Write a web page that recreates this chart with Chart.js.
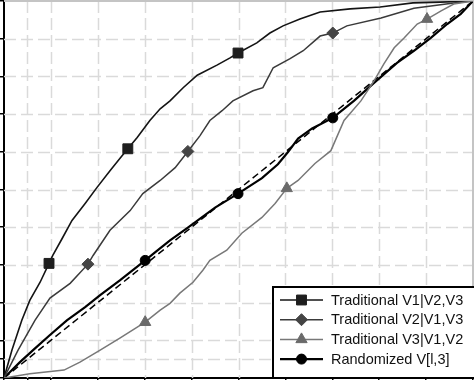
<!DOCTYPE html>
<html><head><meta charset="utf-8">
<script src="https://cdn.jsdelivr.net/npm/chart.js@4/dist/chart.umd.min.js"></script>
<style>html,body{margin:0;padding:0;background:#fff;overflow:hidden}#wrap{width:474px;height:380px;position:relative}</style>
</head><body><div id="wrap"><canvas id="c" width="474" height="380"></canvas></div>
<script>
const seriesLabels = ["Traditional V1|V2,V3", "Traditional V2|V1,V3", "Traditional V3|V1,V2", "Randomized V[l,3]"];
const tickValues = [0, 0.05, 0.1, 0.2, 0.3, 0.4, 0.5, 0.6, 0.7, 0.8, 0.9, 1.0];

const v1X = [0,0.017,0.038,0.055,0.077,0.096,0.104,0.124,0.145,0.173,0.198,0.226,0.247,0.264,0.284,0.311,0.333,0.354,0.382,0.412,0.454,0.482,0.499,0.539,0.567,0.595,0.631,0.674,0.738,0.802,0.872,0.930,1];
const v1Y = [0,0.074,0.153,0.206,0.254,0.304,0.325,0.370,0.418,0.463,0.505,0.550,0.582,0.608,0.638,0.683,0.714,0.735,0.770,0.803,0.830,0.849,0.862,0.889,0.915,0.934,0.952,0.971,0.979,0.984,0.995,0.997,1];
const v1Markers = [5, 13, 22];

const v2X = [0,0.030,0.066,0.098,0.141,0.179,0.190,0.226,0.269,0.296,0.333,0.365,0.392,0.418,0.439,0.465,0.488,0.531,0.552,0.574,0.610,0.638,0.674,0.701,0.731,0.804,0.874,0.959,1];
const v2Y = [0,0.074,0.153,0.212,0.251,0.302,0.325,0.392,0.444,0.489,0.524,0.558,0.601,0.643,0.683,0.709,0.735,0.762,0.770,0.823,0.847,0.868,0.907,0.915,0.934,0.955,0.981,0.995,1];
const v2Markers = [5, 12, 23];

const v3X = [0,0.055,0.128,0.162,0.205,0.247,0.301,0.333,0.354,0.375,0.403,0.424,0.439,0.475,0.507,0.550,0.578,0.603,0.627,0.663,0.697,0.725,0.761,0.789,0.810,0.832,0.853,0.881,0.902,0.932,0.959,1];
const v3Y = [0,0.011,0.021,0.042,0.074,0.106,0.148,0.180,0.198,0.225,0.254,0.286,0.312,0.339,0.384,0.426,0.463,0.503,0.524,0.569,0.603,0.683,0.735,0.788,0.833,0.876,0.902,0.939,0.952,0.974,0.992,1];
const v3Markers = [6, 17, 28];

const rX = [0,0.017,0.034,0.062,0.098,0.134,0.173,0.205,0.247,0.301,0.322,0.354,0.392,0.450,0.499,0.550,0.584,0.606,0.627,0.657,0.701,0.746,0.789,0.838,0.874,0.910,0.945,0.974,1];
const rY = [0,0.021,0.042,0.074,0.114,0.153,0.188,0.220,0.259,0.312,0.333,0.365,0.399,0.452,0.489,0.530,0.567,0.600,0.635,0.662,0.690,0.735,0.783,0.836,0.868,0.902,0.939,0.966,1];
const rMarkers = [9, 14, 20];

const refX = [0, 1];
const refY = [0, 1];

function pts(xs, ys) { return xs.map((x, i) => ({x: x, y: ys[i]})); }
function markerRadius(list, r) { return ctx => list.includes(ctx.dataIndex) ? r : 0; }

const styles = [
  {color: '#141414', fill: '#1e1e1e', style: 'rect', r: 7, w: 1.6},
  {color: '#3a3a3a', fill: '#444444', style: 'rectRot', r: 6, w: 1.5},
  {color: '#787878', fill: '#6a6a6a', style: 'triangle', r: 6.5, w: 1.5},
  {color: '#000000', fill: '#000000', style: 'circle', r: 5, w: 2.2}
];
const seriesPts = [pts(v1X, v1Y), pts(v2X, v2Y), pts(v3X, v3Y), pts(rX, rY)];
const seriesMarkers = [v1Markers, v2Markers, v3Markers, rMarkers];

const datasets = [{
  label: 'ref', data: pts(refX, refY), showLine: true, borderColor: '#000', borderWidth: 1.5,
  borderDash: [7, 4], pointRadius: 0, fill: false, order: 5
}];
[2, 1, 0, 3].forEach(i => {
  const s = styles[i];
  datasets.push({
    label: seriesLabels[i], data: seriesPts[i], showLine: true, borderColor: s.color, borderWidth: s.w,
    pointStyle: s.style, pointRadius: markerRadius(seriesMarkers[i], s.r), pointHoverRadius: 0,
    pointBackgroundColor: s.fill, pointBorderColor: s.fill, pointBorderWidth: 1, tension: 0, fill: false
  });
});

const framePlugin = {
  id: 'frame',
  beforeDatasetsDraw(chart) {
    const {ctx, chartArea: a, scales} = chart;
    ctx.save();
    ctx.strokeStyle = '#dadada'; ctx.lineWidth = 1.5; ctx.setLineDash([12, 5]);
    tickValues.forEach(v => {
      if (v <= 0 || v >= 1) return;
      const x = Math.round(scales.x.getPixelForValue(v)) + 0.5;
      ctx.beginPath(); ctx.moveTo(x, a.top); ctx.lineTo(x, a.bottom); ctx.stroke();
      const y = Math.round(scales.y.getPixelForValue(v)) + 0.5;
      ctx.beginPath(); ctx.moveTo(a.left, y); ctx.lineTo(a.right, y); ctx.stroke();
    });
    ctx.setLineDash([]);
    ctx.strokeStyle = '#c4c4c4'; ctx.lineWidth = 2;
    ctx.beginPath(); ctx.moveTo(a.left, a.top); ctx.lineTo(a.right, a.top); ctx.lineTo(a.right, a.bottom); ctx.stroke();
    ctx.restore();
  }
};

const legendPlugin = {
  id: 'boxLegend',
  afterDraw(chart) {
    const ctx = chart.ctx;
    ctx.save();
    ctx.fillStyle = '#fff';
    ctx.fillRect(273, 287, 210, 91);
    ctx.strokeStyle = '#000'; ctx.lineWidth = 2;
    ctx.strokeRect(273, 287, 210, 91);
    for (let i = 0; i < 4; i++) {
      const s = styles[i];
      const y = 300 + i * 19.7;
      ctx.strokeStyle = s.color; ctx.lineWidth = s.w; ctx.setLineDash([]);
      ctx.beginPath(); ctx.moveTo(280, y); ctx.lineTo(323, y); ctx.stroke();
      ctx.fillStyle = s.fill; ctx.strokeStyle = s.fill; ctx.lineWidth = 1;
      Chart.helpers.drawPoint(ctx, {pointStyle: s.style, radius: s.r, rotation: 0, borderWidth: 1}, 301.5, y);
      ctx.fillStyle = '#111';
      ctx.font = '14.5px "Liberation Sans", Arial, sans-serif';
      ctx.textBaseline = 'middle';
      ctx.fillText(seriesLabels[i], 331, y + 0.5);
    }
    ctx.restore();
  }
};

function axisCfg(tickLen) {
  return {
    type: 'linear', min: 0, max: 1,
    afterBuildTicks: s => { s.ticks = tickValues.map(v => ({value: v})); },
    ticks: {display: false},
    grid: {color: '#dcdcdc', lineWidth: 1.5, drawOnChartArea: false, drawTicks: true, tickLength: tickLen,
           tickColor: '#000', tickWidth: 1.5, tickBorderDash: []},
    border: {display: true, color: '#000', width: 2}
  };
}

new Chart(document.getElementById('c'), {
  type: 'scatter',
  data: {datasets: datasets},
  options: {
    responsive: false, animation: false, devicePixelRatio: 1,
    layout: {padding: {top: 1, right: 1, left: 0, bottom: 0}},
    plugins: {legend: {display: false}, tooltip: {enabled: false}},
    scales: {x: axisCfg(2), y: axisCfg(4)}
  },
  plugins: [framePlugin, legendPlugin]
});
</script></body></html>
